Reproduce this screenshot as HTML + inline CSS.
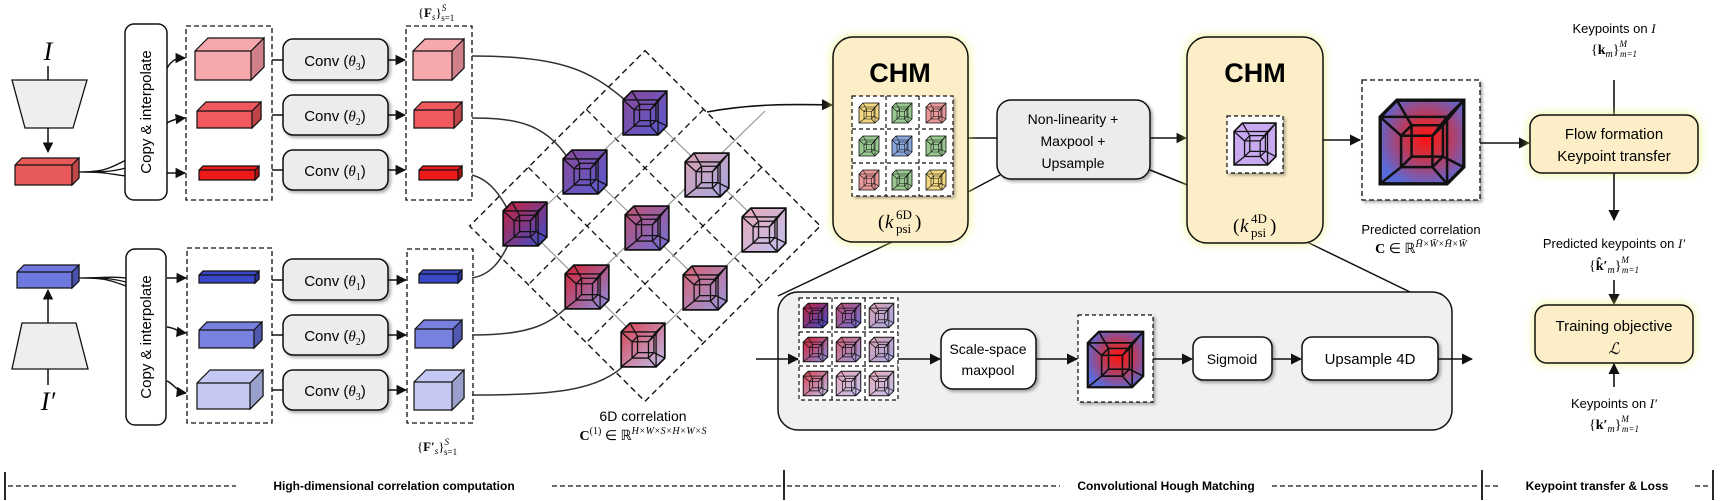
<!DOCTYPE html>
<html><head><meta charset="utf-8"><style>
html,body{margin:0;padding:0;background:#fff;}
svg{display:block;font-family:"Liberation Sans",sans-serif;}
.s{font-family:"Liberation Serif",serif;}
</style></head><body>
<svg width="1720" height="501" viewBox="0 0 1720 501" xmlns="http://www.w3.org/2000/svg">
<defs>
<marker id="ar" viewBox="0 0 10 10" refX="9" refY="5" markerWidth="7" markerHeight="7" orient="auto"><path d="M0,0 L10,5 L0,10Z" fill="#111"/></marker>
<filter id="glow" x="-30%" y="-30%" width="160%" height="160%"><feGaussianBlur stdDeviation="5"/></filter>
<filter id="sh" x="-10%" y="-10%" width="130%" height="130%"><feDropShadow dx="2" dy="2" stdDeviation="1.5" flood-color="#000" flood-opacity="0.35"/></filter>
<linearGradient id="gA" x1="0" y1="0" x2="1" y2="1"><stop offset="0" stop-color="#8a4a9a"/><stop offset="1" stop-color="#5a5ad0"/></linearGradient>
<linearGradient id="gB" x1="0" y1="0" x2="1" y2="1"><stop offset="0" stop-color="#c05070"/><stop offset="1" stop-color="#7070d8"/></linearGradient>
<linearGradient id="gC" x1="0" y1="0" x2="1" y2="1"><stop offset="0" stop-color="#c8203a"/><stop offset="1" stop-color="#3a50d0"/></linearGradient>
<linearGradient id="gD" x1="0" y1="0" x2="1" y2="1"><stop offset="0" stop-color="#d86070"/><stop offset="1" stop-color="#9a9ae0"/></linearGradient>
<linearGradient id="gE" x1="0" y1="0" x2="1" y2="1"><stop offset="0" stop-color="#e8a8b8"/><stop offset="1" stop-color="#c0c0ee"/></linearGradient>
<linearGradient id="gF" x1="0" y1="0" x2="1" y2="1"><stop offset="0" stop-color="#d82030"/><stop offset="1" stop-color="#8a90e0"/></linearGradient>
<linearGradient id="gG" x1="0" y1="0" x2="1" y2="1"><stop offset="0" stop-color="#d84050"/><stop offset="1" stop-color="#c0c0ee"/></linearGradient>
<linearGradient id="gH" x1="0" y1="0" x2="1" y2="1"><stop offset="0" stop-color="#d8a0b0"/><stop offset="1" stop-color="#a8a8e4"/></linearGradient>
<radialGradient id="gR" cx="0.55" cy="0.45" r="0.6"><stop offset="0" stop-color="#ff1010"/><stop offset="0.35" stop-color="#d03040"/><stop offset="1" stop-color="#5a6ad8"/></radialGradient>
<symbol id="tes" viewBox="-2 -2 44 44">
<path d="M0,8 L8,0 L40,0 L40,32 L32,40 L0,40Z" stroke="#111" stroke-width="1.6"/>
<g fill="none" stroke="#111" stroke-width="1.2">
<path d="M0,8 H32 V40 M32,8 L40,0"/>
<path d="M10,17 H25 V32 H10Z M15,12 H30 V27 H15Z M10,17 L15,12 M25,17 L30,12 M25,32 L30,27 M10,32 L15,27"/>
<path d="M0,8 L10,17 M32,8 L25,17 M32,40 L25,32 M0,40 L10,32 M8,0 L15,12 M40,0 L30,12 M40,32 L30,27"/>
</g></symbol>
</defs>

<!-- ===== Top branch ===== -->
<text x="48" y="60" class="s" font-size="26" font-style="italic" text-anchor="middle">I</text>
<line x1="48" y1="66" x2="48" y2="80" stroke="#111" stroke-width="1.5"/>
<path d="M12,80 L87,80 L73,128 L25,128Z" fill="#eeeeee" stroke="#111" stroke-width="1.3"/>
<line x1="48" y1="128" x2="48" y2="152" stroke="#111" stroke-width="1.5" marker-end="url(#ar)"/>
<path d="M15,165 L22,158 L79,158 L79,178 L72,185 L15,185Z" fill="#e85a5a" stroke="#111" stroke-width="1.2"/>
<path d="M15,165 H72 V185 M72,165 L79,158" fill="none" stroke="#111" stroke-width="1.2"/>
<path d="M72,165 L79,158 L79,178 L72,185Z" fill="#c04848" stroke="#111" stroke-width="1.2"/>
<path d="M79,172 C105,172 110,168 126,160 M79,172 C105,172 110,172 126,168 M79,172 C105,172 110,174 126,176" fill="none" stroke="#111" stroke-width="1.3"/>
<rect x="125" y="24" width="42" height="176" rx="9" fill="#fff" stroke="#111" stroke-width="1.5"/>
<text transform="translate(151,112) rotate(-90)" font-size="15" text-anchor="middle">Copy &amp; interpolate</text>
<path d="M167,68 C172,60 176,58 185,58" fill="none" stroke="#111" stroke-width="1.5" marker-end="url(#ar)"/>
<path d="M167,123 C172,120 176,119 185,118" fill="none" stroke="#111" stroke-width="1.5" marker-end="url(#ar)"/>
<line x1="167" y1="173" x2="185" y2="173" stroke="#111" stroke-width="1.5" marker-end="url(#ar)"/>
<rect x="186" y="26" width="86" height="174" fill="#fff" stroke="#111" stroke-width="1.3" stroke-dasharray="5,3"/>
<path d="M195,51 L208,38 L264,38 L264,67 L251,80 L195,80Z" fill="#f7a8ac" stroke="#111" stroke-width="1.2"/>
<path d="M251,51 L264,38 L264,67 L251,80Z" fill="#d08088" stroke="#111" stroke-width="1.2"/><path d="M195,51 H251" stroke="#111" stroke-width="1.2"/>
<path d="M197,111 L206,102 L261,102 L261,119 L252,128 L197,128Z" fill="#f05a5e" stroke="#111" stroke-width="1.2"/>
<path d="M252,111 L261,102 L261,119 L252,128Z" fill="#c04448" stroke="#111" stroke-width="1.2"/><path d="M197,111 H252" stroke="#111" stroke-width="1.2"/>
<path d="M199,170 L203,166 L259,166 L259,176 L255,180 L199,180Z" fill="#ee1a1a" stroke="#111" stroke-width="1.2"/>
<path d="M255,170 L259,166 L259,176 L255,180Z" fill="#b01010" stroke="#111" stroke-width="1.2"/><path d="M199,170 H255" stroke="#111" stroke-width="1.2"/>
<g stroke="#111" stroke-width="1.5">
<line x1="272" y1="60" x2="283" y2="60"/><line x1="272" y1="115" x2="283" y2="115"/><line x1="272" y1="170" x2="283" y2="170"/>
<line x1="388" y1="60" x2="405" y2="60" marker-end="url(#ar)"/><line x1="388" y1="115" x2="405" y2="115" marker-end="url(#ar)"/><line x1="388" y1="170" x2="405" y2="170" marker-end="url(#ar)"/>
</g>
<g fill="#ececec" stroke="#111" stroke-width="1.5" filter="url(#sh)">
<rect x="283" y="39" width="105" height="41" rx="10"/><rect x="283" y="95" width="105" height="40" rx="10"/><rect x="283" y="150" width="105" height="40" rx="10"/>
</g>
<g font-size="15" text-anchor="middle">
<text x="335" y="66">Conv (<tspan class="s" font-style="italic">θ</tspan><tspan class="s" font-size="10" dy="4">3</tspan><tspan dy="-4">)</tspan></text>
<text x="335" y="121">Conv (<tspan class="s" font-style="italic">θ</tspan><tspan class="s" font-size="10" dy="4">2</tspan><tspan dy="-4">)</tspan></text>
<text x="335" y="176">Conv (<tspan class="s" font-style="italic">θ</tspan><tspan class="s" font-size="10" dy="4">1</tspan><tspan dy="-4">)</tspan></text>
</g>
<rect x="406" y="26" width="66" height="174" fill="#fff" stroke="#111" stroke-width="1.3" stroke-dasharray="5,3"/>
<text x="436" y="17" class="s" font-size="13" text-anchor="middle">{<tspan font-weight="bold">F</tspan><tspan font-style="italic" font-size="9" dy="3">s</tspan><tspan dy="-3">}</tspan><tspan font-style="italic" font-size="9" dy="-6">S</tspan><tspan font-size="9" dx="-5" dy="10">s=1</tspan></text>
<path d="M413,51 L425,39 L464,39 L464,68 L452,80 L413,80Z" fill="#f7a8ac" stroke="#111" stroke-width="1.2"/>
<path d="M452,51 L464,39 L464,68 L452,80Z" fill="#d08088" stroke="#111" stroke-width="1.2"/><path d="M413,51 H452" stroke="#111" stroke-width="1.2"/>
<path d="M414,110 L422,102 L462,102 L462,120 L454,128 L414,128Z" fill="#f05a5e" stroke="#111" stroke-width="1.2"/>
<path d="M454,110 L462,102 L462,120 L454,128Z" fill="#c04448" stroke="#111" stroke-width="1.2"/><path d="M414,110 H454" stroke="#111" stroke-width="1.2"/>
<path d="M419,170 L423,166 L462,166 L462,176 L458,180 L419,180Z" fill="#ee1a1a" stroke="#111" stroke-width="1.2"/>
<path d="M458,170 L462,166 L462,176 L458,180Z" fill="#b01010" stroke="#111" stroke-width="1.2"/><path d="M419,170 H458" stroke="#111" stroke-width="1.2"/>

<!-- ===== Bottom branch ===== -->
<path d="M17,272 L24,265 L79,265 L79,281 L72,288 L17,288Z" fill="#6e78de" stroke="#111" stroke-width="1.2"/>
<path d="M72,272 L79,265 L79,281 L72,288Z" fill="#4a52b0" stroke="#111" stroke-width="1.2"/><path d="M17,272 H72" stroke="#111" stroke-width="1.2"/>
<line x1="48" y1="323" x2="48" y2="290" stroke="#111" stroke-width="1.5" marker-end="url(#ar)"/>
<path d="M22,323 L76,323 L88,369 L12,369Z" fill="#eeeeee" stroke="#111" stroke-width="1.3"/>
<line x1="48" y1="369" x2="48" y2="385" stroke="#111" stroke-width="1.5"/>
<text x="48" y="410" class="s" font-size="26" font-style="italic" text-anchor="middle">I′</text>
<path d="M79,278 C105,278 110,280 126,286 M79,278 C105,278 110,278 126,282 M79,278 C105,278 110,276 126,278" fill="none" stroke="#111" stroke-width="1.3"/>
<rect x="126" y="249" width="40" height="176" rx="9" fill="#fff" stroke="#111" stroke-width="1.5"/>
<text transform="translate(151,337) rotate(-90)" font-size="15" text-anchor="middle">Copy &amp; interpolate</text>
<line x1="167" y1="278" x2="186" y2="278" stroke="#111" stroke-width="1.5" marker-end="url(#ar)"/>
<path d="M167,327 C176,328 178,332 186,333" fill="none" stroke="#111" stroke-width="1.5" marker-end="url(#ar)"/>
<path d="M167,381 C174,384 177,392 186,393" fill="none" stroke="#111" stroke-width="1.5" marker-end="url(#ar)"/>
<rect x="187" y="248" width="85" height="175" fill="#fff" stroke="#111" stroke-width="1.3" stroke-dasharray="5,3"/>
<path d="M199,275 L203,271 L259,271 L259,279 L255,283 L199,283Z" fill="#3a48c8" stroke="#111" stroke-width="1.2"/>
<path d="M255,275 L259,271 L259,279 L255,283Z" fill="#28309a" stroke="#111" stroke-width="1.2"/><path d="M199,275 H255" stroke="#111" stroke-width="1.2"/>
<path d="M199,330 L207,322 L262,322 L262,340 L254,348 L199,348Z" fill="#7880e0" stroke="#111" stroke-width="1.2"/>
<path d="M254,330 L262,322 L262,340 L254,348Z" fill="#5058b0" stroke="#111" stroke-width="1.2"/><path d="M199,330 H254" stroke="#111" stroke-width="1.2"/>
<path d="M197,383 L210,370 L263,370 L263,396 L250,409 L197,409Z" fill="#c4c8f2" stroke="#111" stroke-width="1.2"/>
<path d="M250,383 L263,370 L263,396 L250,409Z" fill="#9aa0cc" stroke="#111" stroke-width="1.2"/><path d="M197,383 H250" stroke="#111" stroke-width="1.2"/>
<g stroke="#111" stroke-width="1.5">
<line x1="272" y1="280" x2="283" y2="280"/><line x1="272" y1="335" x2="283" y2="335"/><line x1="272" y1="390" x2="283" y2="390"/>
<line x1="388" y1="280" x2="406" y2="280" marker-end="url(#ar)"/><line x1="388" y1="335" x2="406" y2="335" marker-end="url(#ar)"/><line x1="388" y1="390" x2="406" y2="390" marker-end="url(#ar)"/>
</g>
<g fill="#ececec" stroke="#111" stroke-width="1.5" filter="url(#sh)">
<rect x="283" y="259" width="105" height="41" rx="10"/><rect x="283" y="315" width="105" height="40" rx="10"/><rect x="283" y="370" width="105" height="40" rx="10"/>
</g>
<g font-size="15" text-anchor="middle">
<text x="335" y="286">Conv (<tspan class="s" font-style="italic">θ</tspan><tspan class="s" font-size="10" dy="4">1</tspan><tspan dy="-4">)</tspan></text>
<text x="335" y="341">Conv (<tspan class="s" font-style="italic">θ</tspan><tspan class="s" font-size="10" dy="4">2</tspan><tspan dy="-4">)</tspan></text>
<text x="335" y="396">Conv (<tspan class="s" font-style="italic">θ</tspan><tspan class="s" font-size="10" dy="4">3</tspan><tspan dy="-4">)</tspan></text>
</g>
<rect x="407" y="249" width="66" height="174" fill="#fff" stroke="#111" stroke-width="1.3" stroke-dasharray="5,3"/>
<path d="M419,274 L423,270 L462,270 L462,279 L458,283 L419,283Z" fill="#3a48c8" stroke="#111" stroke-width="1.2"/>
<path d="M458,274 L462,270 L462,279 L458,283Z" fill="#28309a" stroke="#111" stroke-width="1.2"/><path d="M419,274 H458" stroke="#111" stroke-width="1.2"/>
<path d="M415,329 L424,320 L462,320 L462,339 L453,348 L415,348Z" fill="#7880e0" stroke="#111" stroke-width="1.2"/>
<path d="M453,329 L462,320 L462,339 L453,348Z" fill="#5058b0" stroke="#111" stroke-width="1.2"/><path d="M415,329 H453" stroke="#111" stroke-width="1.2"/>
<path d="M414,382 L426,370 L464,370 L464,398 L452,410 L414,410Z" fill="#c4c8f2" stroke="#111" stroke-width="1.2"/>
<path d="M452,382 L464,370 L464,398 L452,410Z" fill="#9aa0cc" stroke="#111" stroke-width="1.2"/><path d="M414,382 H452" stroke="#111" stroke-width="1.2"/>
<text x="437" y="451" class="s" font-size="13" text-anchor="middle">{<tspan font-weight="bold">F′</tspan><tspan font-style="italic" font-size="9" dy="3">s</tspan><tspan dy="-3">}</tspan><tspan font-style="italic" font-size="9" dy="-6">S</tspan><tspan font-size="9" dx="-5" dy="10">s=1</tspan></text>

<!-- ===== Diamond ===== -->
<g transform="translate(645,226) rotate(45)">
<rect x="-124" y="-124" width="248" height="248" fill="#fff" stroke="#111" stroke-width="1.4" stroke-dasharray="6,4"/>
<g stroke="#111" stroke-width="1.3" stroke-dasharray="6,4">
<line x1="-41" y1="-124" x2="-41" y2="124"/><line x1="41" y1="-124" x2="41" y2="124"/>
<line x1="-124" y1="-41" x2="124" y2="-41"/><line x1="-124" y1="41" x2="124" y2="41"/>
</g></g>
<g stroke="#999" stroke-width="1.2" fill="none">
<path d="M525,226 L645,111 M585,286 L765,111 M645,345 L765,228 M525,226 L645,345 M585,170 L705,286 M645,111 L765,228"/>
</g>
<g fill="none" stroke="#333" stroke-width="1.5">
<path d="M472,56 C560,56 590,70 625,100"/>
<path d="M472,118 C520,118 545,125 568,158"/>
<path d="M472,175 C490,180 500,195 508,210"/>
<path d="M472,278 C490,275 500,262 508,245"/>
<path d="M472,335 C530,335 550,325 572,302"/>
<path d="M472,395 C560,395 600,390 628,362"/>
</g>
<use href="#tes" x="621" y="89" width="48" height="48" fill="url(#gA)"/>
<use href="#tes" x="561" y="148" width="48" height="48" fill="url(#gA)"/>
<use href="#tes" x="683" y="151" width="48" height="48" fill="url(#gH)"/>
<use href="#tes" x="501" y="200" width="48" height="48" fill="url(#gC)"/>
<use href="#tes" x="623" y="204" width="48" height="48" fill="url(#gB)"/>
<use href="#tes" x="740" y="206" width="48" height="48" fill="url(#gE)"/>
<use href="#tes" x="563" y="263" width="48" height="48" fill="url(#gF)"/>
<use href="#tes" x="681" y="264" width="48" height="48" fill="url(#gD)"/>
<use href="#tes" x="619" y="321" width="48" height="48" fill="url(#gG)"/>
<text x="643" y="421" font-size="14" text-anchor="middle">6D correlation</text>
<text x="643" y="440" class="s" font-size="14" text-anchor="middle"><tspan font-weight="bold">C</tspan><tspan font-size="10" dy="-6">(1)</tspan><tspan dy="6"> ∈ ℝ</tspan><tspan font-style="italic" font-size="10" dy="-6">H×W×S×H×W×S</tspan></text>

<path d="M707,112 C750,104 790,104 832,105" fill="none" stroke="#111" stroke-width="1.6" marker-end="url(#ar)"/>

<g stroke="#111" stroke-width="1.5">
<line x1="892" y1="242" x2="778" y2="296"/>
<line x1="1307" y1="242" x2="1410" y2="292"/>
<line x1="968" y1="138" x2="997" y2="138"/>
<line x1="968" y1="192" x2="1000" y2="175"/>
<line x1="1150" y1="170" x2="1190" y2="186"/>
<line x1="1150" y1="138" x2="1186" y2="138" marker-end="url(#ar)"/>
</g>

<!-- CHM 1 -->
<rect x="833" y="37" width="135" height="205" rx="20" fill="#e8ee60" filter="url(#glow)" opacity="0.9"/>
<rect x="833" y="37" width="135" height="205" rx="20" fill="#fcefc8" stroke="#111" stroke-width="1.5"/>
<text x="900" y="82" font-size="27" font-weight="bold" text-anchor="middle">CHM</text>
<g filter="url(#sh)"><rect x="852" y="96" width="101" height="100" fill="#fff"/></g>
<g stroke="#111" stroke-width="1.2" stroke-dasharray="4,3" fill="none">
<rect x="852" y="96" width="101" height="100"/>
<line x1="886" y1="96" x2="886" y2="196"/><line x1="919" y1="96" x2="919" y2="196"/>
<line x1="852" y1="129" x2="953" y2="129"/><line x1="852" y1="163" x2="953" y2="163"/>
</g>
<use href="#tes" x="858" y="102" width="22" height="22" fill="#f2d680"/>
<use href="#tes" x="891" y="102" width="22" height="22" fill="#98c890"/>
<use href="#tes" x="925" y="102" width="22" height="22" fill="#e89898"/>
<use href="#tes" x="858" y="135" width="22" height="22" fill="#98c890"/>
<use href="#tes" x="891" y="135" width="22" height="22" fill="#8aa8e0"/>
<use href="#tes" x="925" y="135" width="22" height="22" fill="#98c890"/>
<use href="#tes" x="858" y="169" width="22" height="22" fill="#e89898"/>
<use href="#tes" x="891" y="169" width="22" height="22" fill="#98c890"/>
<use href="#tes" x="925" y="169" width="22" height="22" fill="#f2d680"/>
<g class="s" font-size="19">
<text x="878" y="228">(</text><text x="885" y="228" font-style="italic">k</text>
<text x="896" y="219" font-size="13">6D</text><text x="896" y="233" font-size="13">psi</text>
<text x="915" y="228">)</text>
</g>

<!-- Non-linearity -->
<rect x="997" y="100" width="153" height="79" rx="14" fill="#ececec" stroke="#111" stroke-width="1.5" filter="url(#sh)"/>
<g font-size="14" text-anchor="middle"><text x="1073" y="124">Non-linearity +</text><text x="1073" y="146">Maxpool +</text><text x="1073" y="168">Upsample</text></g>

<!-- CHM 2 -->
<rect x="1187" y="37" width="136" height="206" rx="20" fill="#e8ee60" filter="url(#glow)" opacity="0.9"/>
<rect x="1187" y="37" width="136" height="206" rx="20" fill="#fcefc8" stroke="#111" stroke-width="1.5"/>
<text x="1255" y="82" font-size="27" font-weight="bold" text-anchor="middle">CHM</text>
<rect x="1227" y="116" width="56" height="57" fill="#fff" stroke="#111" stroke-width="1.2" stroke-dasharray="4,3" filter="url(#sh)"/>
<use href="#tes" x="1232" y="121" width="46" height="46" fill="#c8a8ee"/>
<g class="s" font-size="19">
<text x="1233" y="232">(</text><text x="1240" y="232" font-style="italic">k</text>
<text x="1251" y="223" font-size="13">4D</text><text x="1251" y="237" font-size="13">psi</text>
<text x="1270" y="232">)</text>
</g>

<!-- predicted correlation -->
<line x1="1323" y1="140" x2="1360" y2="140" stroke="#111" stroke-width="1.6" marker-end="url(#ar)"/>
<rect x="1362" y="80" width="118" height="120" fill="#fff" stroke="#111" stroke-width="1.3" stroke-dasharray="5,3" filter="url(#sh)"/>
<use href="#tes" x="1374" y="96" width="96" height="92" fill="url(#gR)"/>
<text x="1421" y="234" font-size="13" text-anchor="middle">Predicted correlation</text>
<text x="1421" y="253" class="s" font-size="14" text-anchor="middle"><tspan font-weight="bold">C</tspan> ∈ ℝ<tspan font-style="italic" font-size="10" dy="-6">H̄×W̄×H̄×W̄</tspan></text>
<line x1="1480" y1="143" x2="1529" y2="143" stroke="#111" stroke-width="1.6" marker-end="url(#ar)"/>

<!-- right column -->
<text x="1614" y="33" font-size="13" text-anchor="middle">Keypoints on <tspan class="s" font-style="italic">I</tspan></text>
<text x="1614" y="54" class="s" font-size="14" text-anchor="middle">{<tspan font-weight="bold">k</tspan><tspan font-style="italic" font-size="10" dy="3">m</tspan><tspan dy="-3">}</tspan><tspan font-style="italic" font-size="9" dy="-7">M</tspan><tspan font-style="italic" font-size="9" dx="-7" dy="10">m=1</tspan></text>
<line x1="1614" y1="80" x2="1614" y2="115" stroke="#111" stroke-width="1.6"/>
<rect x="1530" y="115" width="168" height="58" rx="12" fill="#e8ee60" filter="url(#glow)" opacity="0.9"/>
<rect x="1530" y="115" width="168" height="58" rx="12" fill="#fcefc8" stroke="#111" stroke-width="1.5"/>
<text x="1614" y="139" font-size="15" text-anchor="middle">Flow formation</text>
<text x="1614" y="161" font-size="15" text-anchor="middle">Keypoint transfer</text>
<line x1="1614" y1="173" x2="1614" y2="220" stroke="#111" stroke-width="1.6" marker-end="url(#ar)"/>
<text x="1614" y="248" font-size="13" text-anchor="middle">Predicted keypoints on <tspan class="s" font-style="italic">I′</tspan></text>
<text x="1614" y="270" class="s" font-size="14" text-anchor="middle">{<tspan font-weight="bold">k̂′</tspan><tspan font-style="italic" font-size="10" dy="3">m</tspan><tspan dy="-3">}</tspan><tspan font-style="italic" font-size="9" dy="-7">M</tspan><tspan font-style="italic" font-size="9" dx="-7" dy="10">m=1</tspan></text>
<line x1="1614" y1="280" x2="1614" y2="304" stroke="#111" stroke-width="1.6" marker-end="url(#ar)"/>
<rect x="1535" y="305" width="158" height="58" rx="12" fill="#e8ee60" filter="url(#glow)" opacity="0.9"/>
<rect x="1535" y="305" width="158" height="58" rx="12" fill="#fcefc8" stroke="#111" stroke-width="1.5"/>
<text x="1614" y="331" font-size="15" text-anchor="middle">Training objective</text>
<text x="1614" y="354" class="s" font-size="16" font-style="italic" text-anchor="middle">ℒ</text>
<line x1="1614" y1="387" x2="1614" y2="364" stroke="#111" stroke-width="1.6" marker-end="url(#ar)"/>
<text x="1614" y="408" font-size="13" text-anchor="middle">Keypoints on <tspan class="s" font-style="italic">I′</tspan></text>
<text x="1614" y="429" class="s" font-size="14" text-anchor="middle">{<tspan font-weight="bold">k′</tspan><tspan font-style="italic" font-size="10" dy="3">m</tspan><tspan dy="-3">}</tspan><tspan font-style="italic" font-size="9" dy="-7">M</tspan><tspan font-style="italic" font-size="9" dx="-7" dy="10">m=1</tspan></text>

<!-- gray bottom box -->
<rect x="778" y="292" width="674" height="138" rx="20" fill="#f0f0f0" stroke="#111" stroke-width="1.5"/>
<line x1="756" y1="359" x2="798" y2="359" stroke="#111" stroke-width="1.6" marker-end="url(#ar)"/>
<rect x="799" y="298" width="99" height="102" fill="#fff"/>
<g stroke="#111" stroke-width="1.2" stroke-dasharray="4,3" fill="none">
<rect x="799" y="298" width="99" height="102"/>
<line x1="832" y1="298" x2="832" y2="400"/><line x1="865" y1="298" x2="865" y2="400"/>
<line x1="799" y1="332" x2="898" y2="332"/><line x1="799" y1="366" x2="898" y2="366"/>
</g>
<use href="#tes" x="802" y="302" width="27" height="27" fill="url(#gC)"/>
<use href="#tes" x="835" y="302" width="27" height="27" fill="url(#gB)"/>
<use href="#tes" x="868" y="302" width="27" height="27" fill="url(#gH)"/>
<use href="#tes" x="802" y="336" width="27" height="27" fill="url(#gF)"/>
<use href="#tes" x="835" y="336" width="27" height="27" fill="url(#gD)"/>
<use href="#tes" x="868" y="336" width="27" height="27" fill="url(#gH)"/>
<use href="#tes" x="802" y="370" width="27" height="27" fill="url(#gG)"/>
<use href="#tes" x="835" y="370" width="27" height="27" fill="url(#gE)"/>
<use href="#tes" x="868" y="370" width="27" height="27" fill="url(#gE)"/>
<line x1="898" y1="359" x2="940" y2="359" stroke="#111" stroke-width="1.6" marker-end="url(#ar)"/>
<rect x="941" y="329" width="95" height="60" rx="12" fill="#fff" stroke="#111" stroke-width="1.5" filter="url(#sh)"/>
<text x="988" y="354" font-size="14" text-anchor="middle">Scale-space</text>
<text x="988" y="375" font-size="14" text-anchor="middle">maxpool</text>
<line x1="1036" y1="359" x2="1077" y2="359" stroke="#111" stroke-width="1.6" marker-end="url(#ar)"/>
<rect x="1078" y="315" width="75" height="87" fill="#fff" stroke="#111" stroke-width="1.2" stroke-dasharray="4,3" filter="url(#sh)"/>
<use href="#tes" x="1085" y="329" width="61" height="61" fill="url(#gR)"/>
<line x1="1153" y1="359" x2="1192" y2="359" stroke="#111" stroke-width="1.6" marker-end="url(#ar)"/>
<rect x="1193" y="337" width="79" height="43" rx="10" fill="#fff" stroke="#111" stroke-width="1.5" filter="url(#sh)"/>
<text x="1232" y="364" font-size="14" text-anchor="middle">Sigmoid</text>
<line x1="1272" y1="359" x2="1301" y2="359" stroke="#111" stroke-width="1.6" marker-end="url(#ar)"/>
<rect x="1302" y="337" width="136" height="43" rx="10" fill="#fff" stroke="#111" stroke-width="1.5" filter="url(#sh)"/>
<text x="1370" y="364" font-size="15" text-anchor="middle">Upsample 4D</text>
<line x1="1438" y1="359" x2="1472" y2="359" stroke="#111" stroke-width="1.6" marker-end="url(#ar)"/>

<!-- footer -->
<g stroke="#111" stroke-width="1.3">
<line x1="5" y1="472" x2="5" y2="500" stroke-width="1.8"/>
<line x1="784" y1="470" x2="784" y2="500" stroke-width="1.8"/>
<line x1="1482" y1="470" x2="1482" y2="500" stroke-width="1.8"/>
<line x1="1713" y1="470" x2="1713" y2="500" stroke-width="1.8"/>
<g stroke-dasharray="5,3">
<line x1="8" y1="486" x2="236" y2="486"/><line x1="552" y1="486" x2="782" y2="486"/>
<line x1="787" y1="486" x2="1060" y2="486"/><line x1="1272" y1="486" x2="1480" y2="486"/>
<line x1="1485" y1="486" x2="1500" y2="486"/><line x1="1695" y1="486" x2="1711" y2="486"/>
</g></g>
<g font-size="12" font-weight="bold" text-anchor="middle">
<text x="394" y="490">High-dimensional correlation computation</text>
<text x="1166" y="490">Convolutional Hough Matching</text>
<text x="1597" y="490">Keypoint transfer &amp; Loss</text>
</g>
</svg>
</body></html>
